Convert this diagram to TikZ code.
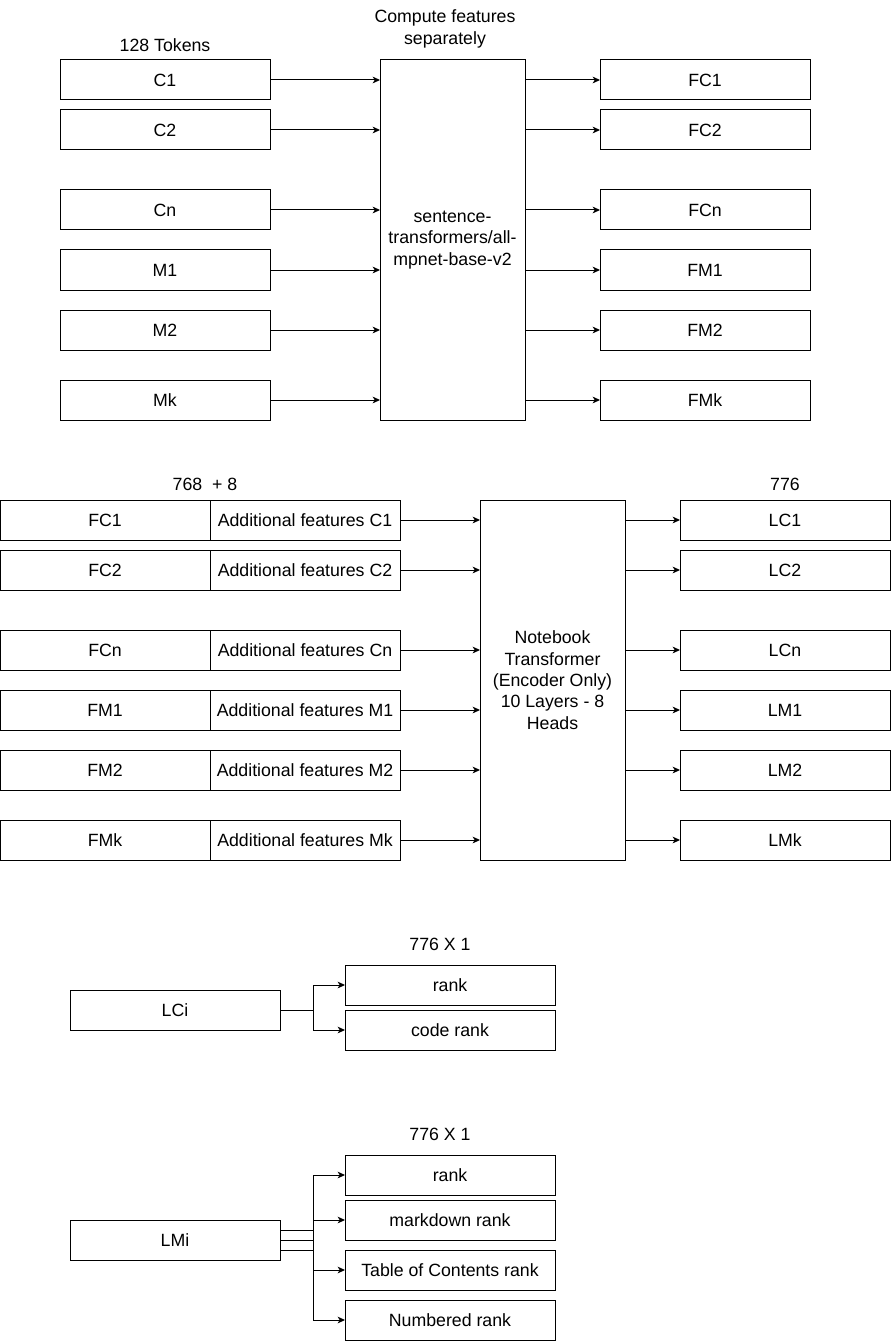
\documentclass[tikz,border=0pt]{standalone}
\usepackage{fontspec}
\setmainfont{Liberation Sans}
\usetikzlibrary{arrows.meta,positioning}

\begin{document}
\begin{tikzpicture}[x=0.75pt,y=-0.75pt,line width=0.75pt,
  box/.style={draw=black,minimum width=157.5pt,minimum height=30pt,inner sep=0pt,outer sep=0pt},
  featbox/.style={box,minimum width=142.5pt},
  bigbox/.style={draw=black,minimum width=108.75pt,minimum height=270pt,inner sep=2pt,outer sep=0pt,align=center},
  lbl/.style={inner sep=0pt,align=center},
  arr/.style={-{Stealth[length=5.5pt,width=5pt,inset=1.5pt]}}]
\tikzstyle{every node}+=[font=\fontsize{13.3}{16}\selectfont]
\useasboundingbox (0,0) rectangle (891,1341);
% sentence embeddings
\node[lbl] (tok) at (165,45) {128 Tokens};
\node[lbl] (sep) at (445,29) {Compute features\\separately};
\node[box] (c1) at (165,80) {C1};
\node[box] (c2) at (165,130) {C2};
\node[box] (cn) at (165,210) {Cn};
\node[box] (m1) at (165,270) {M1};
\node[box] (m2) at (165,330) {M2};
\node[box] (mk) at (165,400) {Mk};
\node[bigbox] (sbert) at (452.5,240) {sentence-\\transformers/all-\\mpnet-base-v2};
\node[box] (fc1) at (705,80) {FC1};
\node[box] (fc2) at (705,130) {FC2};
\node[box] (fcn) at (705,210) {FCn};
\node[box] (fm1) at (705,270) {FM1};
\node[box] (fm2) at (705,330) {FM2};
\node[box] (fmk) at (705,400) {FMk};
\draw [arr] (c1.east) -- (sbert.west |- c1);
\draw [arr] (c2.east) -- (sbert.west |- c2);
\draw [arr] (cn.east) -- (sbert.west |- cn);
\draw [arr] (m1.east) -- (sbert.west |- m1);
\draw [arr] (m2.east) -- (sbert.west |- m2);
\draw [arr] (mk.east) -- (sbert.west |- mk);
\draw [arr] (sbert.east |- fc1) -- (fc1.west);
\draw [arr] (sbert.east |- fc2) -- (fc2.west);
\draw [arr] (sbert.east |- fcn) -- (fcn.west);
\draw [arr] (sbert.east |- fm1) -- (fm1.west);
\draw [arr] (sbert.east |- fm2) -- (fm2.west);
\draw [arr] (sbert.east |- fmk) -- (fmk.west);
% notebook transformer
\node[lbl] (dim) at (205,484) {768~~+ 8};
\node[lbl] (dimout) at (785,484) {776};
\node[box] (ffc1) at (105,520) {FC1};
\node[box] (ffc2) at (105,570) {FC2};
\node[box] (ffcn) at (105,650) {FCn};
\node[box] (ffm1) at (105,710) {FM1};
\node[box] (ffm2) at (105,770) {FM2};
\node[box] (ffmk) at (105,840) {FMk};
\node[featbox] (ac1) at (305,520) {Additional features C1};
\node[featbox] (ac2) at (305,570) {Additional features C2};
\node[featbox] (acn) at (305,650) {Additional features Cn};
\node[featbox] (am1) at (305,710) {Additional features M1};
\node[featbox] (am2) at (305,770) {Additional features M2};
\node[featbox] (amk) at (305,840) {Additional features Mk};
\node[bigbox] (nbt) at (552.5,680) {Notebook\\Transformer\\(Encoder Only)\\10 Layers - 8\\Heads};
\node[box] (lc1) at (785,520) {LC1};
\node[box] (lc2) at (785,570) {LC2};
\node[box] (lcn) at (785,650) {LCn};
\node[box] (lm1) at (785,710) {LM1};
\node[box] (lm2) at (785,770) {LM2};
\node[box] (lmk) at (785,840) {LMk};
\draw [arr] (ac1.east) -- (nbt.west |- ac1);
\draw [arr] (ac2.east) -- (nbt.west |- ac2);
\draw [arr] (acn.east) -- (nbt.west |- acn);
\draw [arr] (am1.east) -- (nbt.west |- am1);
\draw [arr] (am2.east) -- (nbt.west |- am2);
\draw [arr] (amk.east) -- (nbt.west |- amk);
\draw [arr] (nbt.east |- lc1) -- (lc1.west);
\draw [arr] (nbt.east |- lc2) -- (lc2.west);
\draw [arr] (nbt.east |- lcn) -- (lcn.west);
\draw [arr] (nbt.east |- lm1) -- (lm1.west);
\draw [arr] (nbt.east |- lm2) -- (lm2.west);
\draw [arr] (nbt.east |- lmk) -- (lmk.west);
% code head
\node[lbl] (dimc) at (440,944) {776 X 1};
\node[box] (lci) at (175,1010) {LCi};
\node[box] (crank) at (450,985) {rank};
\node[box] (ccrank) at (450,1030) {code rank};
\coordinate (csplit) at (313,1010);
\draw (lci.east) -- (csplit);
\draw [arr] (csplit) |- (crank.west);
\draw [arr] (csplit) |- (ccrank.west);
% markdown head
\node[lbl] (dimm) at (440,1134) {776 X 1};
\node[box] (lmi) at (175,1240) {LMi};
\node[box] (mrank) at (450,1175) {rank};
\node[box] (mdrank) at (450,1220) {markdown rank};
\node[box] (tocrank) at (450,1270) {Table of Contents rank};
\node[box] (numrank) at (450,1320) {Numbered rank};
\coordinate (msplit) at (313,1240);
\draw [arr] ([yshift=7.5pt]lmi.east) -- ([yshift=7.5pt]msplit) |- (mrank.west);
\draw [arr] ([yshift=-7.5pt]lmi.east) -- ([yshift=-7.5pt]msplit) |- (mdrank.west);
\draw [arr] (lmi.east) -- (msplit) |- (tocrank.west);
\draw [arr] ([yshift=-7.5pt]msplit) |- (numrank.west);
\end{tikzpicture}
\end{document}
